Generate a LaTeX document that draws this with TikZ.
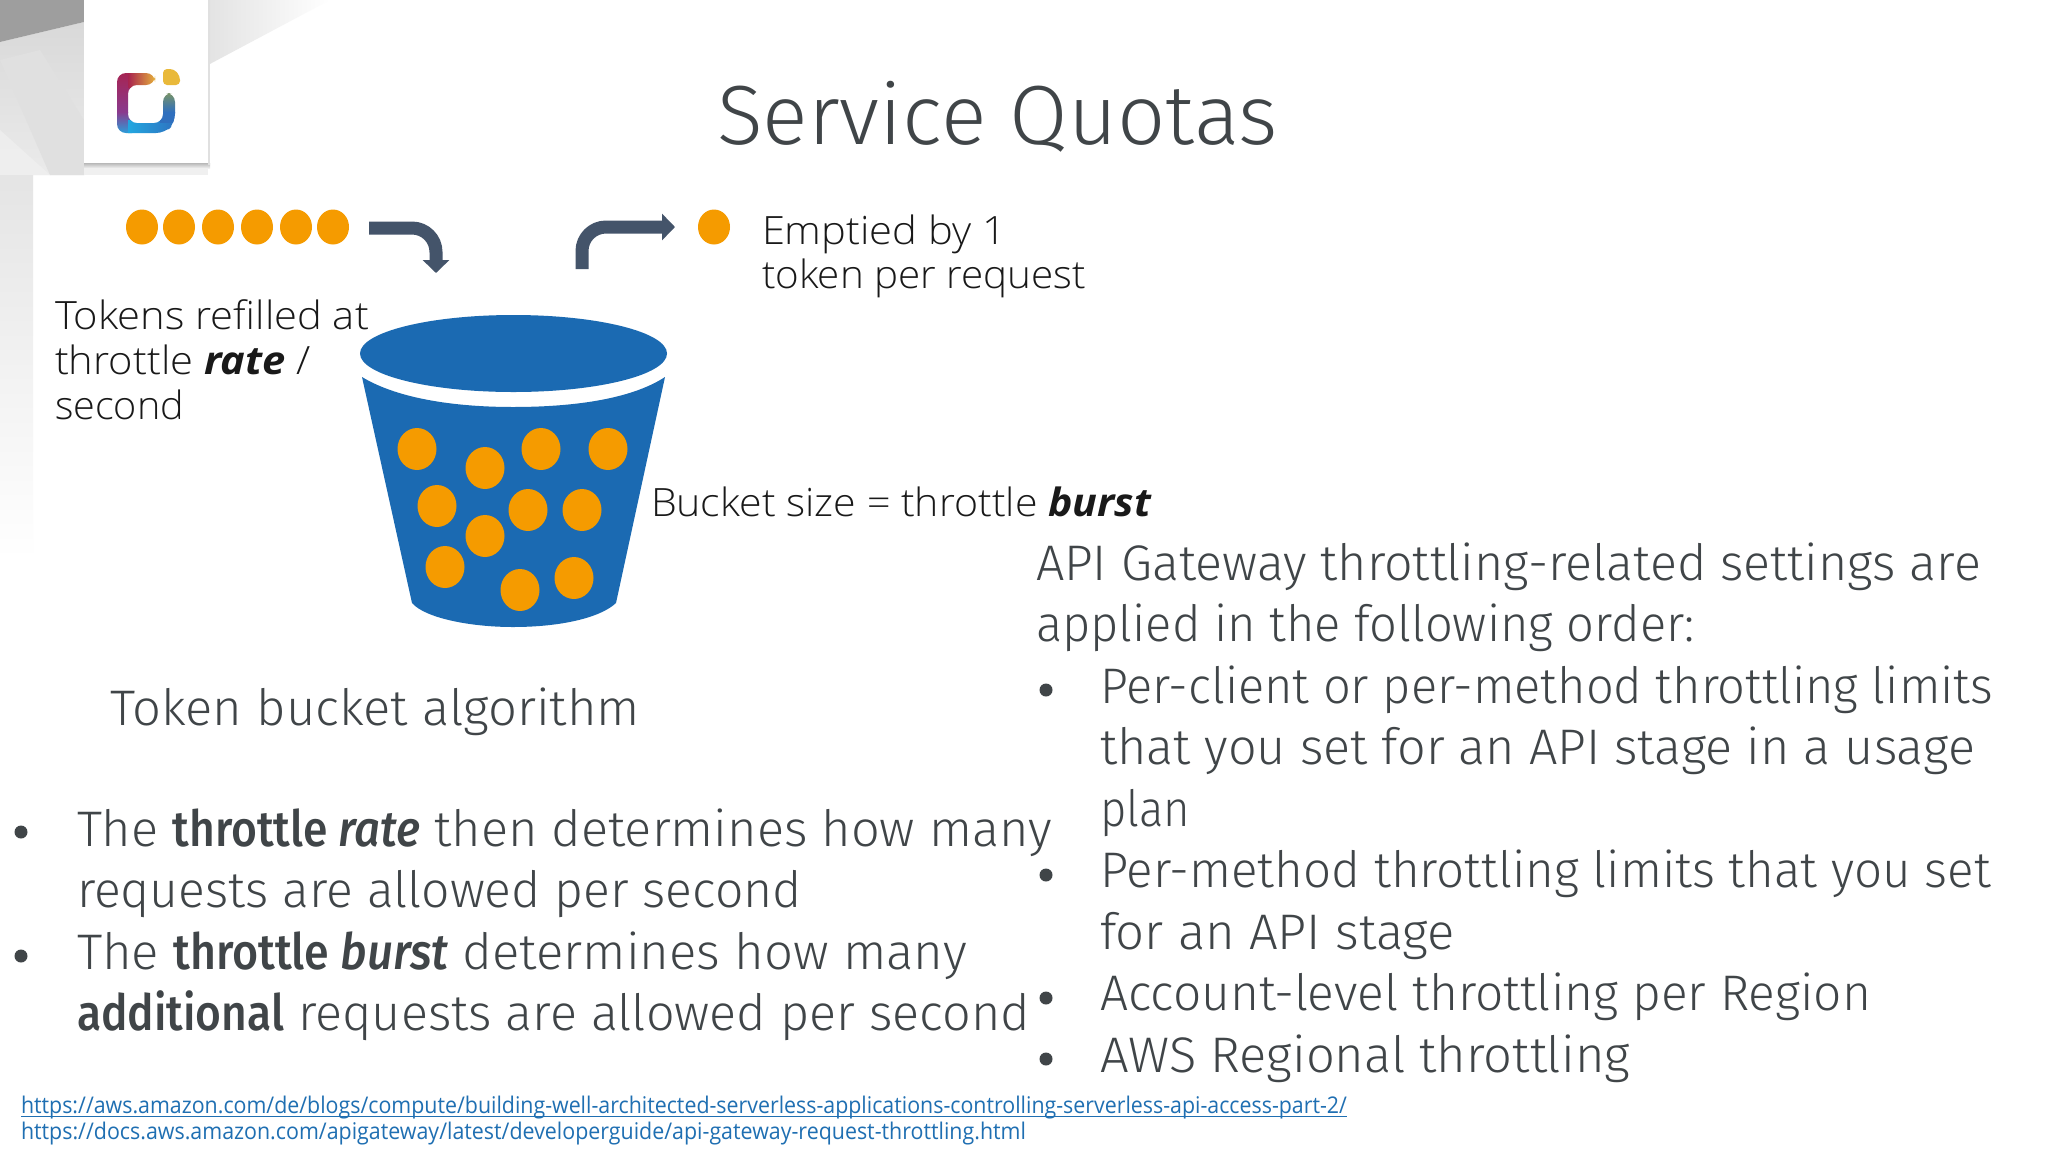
\documentclass[tikz,border=0pt]{standalone}
\usepackage{fontspec}
\usetikzlibrary{arrows.meta,shapes.geometric,calc}
\setmainfont{Open Sans}
\newfontfamily\bodyfont{Fira Sans}[UprightFont=* Light,BoldFont=* Medium,ItalicFont=* Light Italic,BoldItalicFont=* Medium Italic]
\newfontfamily\figfont{Open Sans}[UprightFont=* Light,BoldFont=* Bold,BoldItalicFont=* Bold Italic]
\newfontfamily\linkfont{Open Sans}
\definecolor{txt}{HTML}{404548}
\definecolor{tokenor}{HTML}{F59B00}
\definecolor{bucketb}{HTML}{1B6AB2}
\definecolor{arrowb}{HTML}{44546A}
\definecolor{linkb}{HTML}{1F6FB2}
\definecolor{lred}{HTML}{A8234F}
\definecolor{lpur}{HTML}{8A3A8E}
\definecolor{lyel}{HTML}{E9B93A}
\definecolor{lblu}{HTML}{2F6FBE}
\definecolor{lcya}{HTML}{22A7E0}
\definecolor{lgrn}{HTML}{84995A}
\newlength\fitwd
% fit text to a target width: \fitw{width in px}{text}
\newcommand\fitw[2]{\settowidth\fitwd{#2}\pgfmathsetmacro\fitr{#1/(\fitwd/1pt)}\scalebox{\fitr}[1]{#2}}
\newcommand\narbf[1]{\scalebox{.88}[1]{\textbf{#1}}}
\newcommand\narit[1]{\scalebox{.9}[1]{\textbf{\textit{#1}}}}
\tikzset{
  x=1pt,y=-1pt,
  lineb/.style={anchor=base west,inner sep=0pt,outer sep=0pt,text=txt,font=\bodyfont\fontsize{50}{52}\selectfont},
  figt/.style={anchor=base west,inner sep=0pt,outer sep=0pt,text=black!90,font=\figfont\fontsize{39}{41}\selectfont},
  linkt/.style={anchor=base west,inner sep=0pt,outer sep=0pt,text=linkb,font=\linkfont\fontsize{23}{25}\selectfont},
  bul/.style={circle,fill=txt,minimum size=13pt,inner sep=0pt,outer sep=0pt},
  tok/.style={ellipse,fill=tokenor,draw=none,inner sep=0pt,minimum width=#1},
  flow/.style={draw=arrowb,line width=13pt,rounded corners=24pt},
}
\begin{document}
\begin{tikzpicture}
\useasboundingbox (0,0) rectangle (2048,1152);
\fill[white] (0,0) rectangle (2048,1152);
% background facets
\shade[top color=black!14,bottom color=white] (0,42) rectangle (33,560);
\shade[top color=black!15,bottom color=black!8] (0,42) -- (84,22) -- (84,175) -- (0,175) -- cycle;
\fill[black!12] (0,60) -- (40,50) -- (84,120) -- (84,175) -- (50,175) -- cycle;
\fill[black!5,opacity=.6] (0,130) -- (50,175) -- (0,175) -- cycle;
\shade[left color=black!11,right color=white] (208,0) -- (330,0) -- (208,65) -- cycle;
\fill[black!6] (84,163) rectangle (208,175);
\fill[black!38] (0,0) -- (84,0) -- (84,22) -- (0,42) -- cycle;
% logo card
\shade[top color=black!28,bottom color=black!6] (84,163) rectangle (210,168);
\fill[black!12] (208,0) rectangle (210,165);
\fill[white] (84,0) rectangle (208,163);
\begin{scope}
  \clip[rounded corners=9pt] (117,73) -- (155,73) -- (155,85) -- (128,85) -- (128,123) -- (163,123) -- (163,93) -- (175,93) -- (175,123) -- (165,133) -- (117,133) -- cycle;
  \shade[top color=lred,bottom color=lpur] (115,70) rectangle (132,112);
  \shade[top color=lpur,bottom color=lcya] (115,112) rectangle (132,135);
  \shade[left color=lcya,right color=lblu] (128,120) rectangle (178,135);
  \shade[left color=lred,right color=lyel] (128,70) rectangle (157,87);
  \shade[top color=lgrn,bottom color=lblu] (160,90) rectangle (178,112);
  \fill[lblu] (160,112) rectangle (178,123);
\end{scope}
\fill[lyel,rounded corners=4pt] (163,69) -- (174,69) -- (180,76) -- (180,85) -- (163,85) -- cycle;
% title
\node[anchor=base west,inner sep=0pt,text=txt,font=\bodyfont\fontsize{84}{88}\selectfont] (title) at (717,144) {\fitw{561}{Service Quotas}};
% diagram tokens
\foreach \n/\x in {a/142,b/179,c/218,d/257,e/296,f/333}
  \node[tok=32pt,minimum height=35pt] (t\n) at (\x,227) {};
\node[tok=32pt,minimum height=35pt] (out) at (714,227) {};
% arrows
\coordinate (a1s) at (369,228); \coordinate (a1c) at (436,228); \coordinate (a1e) at (436,273);
\coordinate (a2s) at (582,269); \coordinate (a2c) at (582,227); \coordinate (a2e) at (675,227);
\draw[flow,-{Triangle[length=13pt,width=26pt]}] (a1s) -- (a1c) -- (a1e);
\draw[flow,-{Triangle[length=13pt,width=26pt]}] (a2s) -- (a2c) -- (a2e);
% bucket
\fill[bucketb] (362,377) .. controls (400,400) and (460,407) .. (513,407) .. controls (570,407) and (630,400) .. (665,377) -- (616,603) .. controls (600,618) and (560,627) .. (513,627) .. controls (470,627) and (425,618) .. (412,603) -- cycle;
\fill[bucketb] (513.5,353.5) ellipse [x radius=153.5,y radius=38.5];
\foreach \n/\x/\y in {a/417/449,b/485/468,c/541/449,d/608/449,e/437/506,f/528/510,g/582/510,h/485/536,i/445/567,j/520/590,k/574/578}
  \node[tok=39pt,minimum height=42pt] (c\n) at (\x,\y) {};
% diagram labels
\node[figt] (l1) at (55,329) {\fitw{314}{Tokens refilled at}};
\node[figt] (l2) at (55,374) {\fitw{256}{throttle \textbf{\textit{rate}} /}};
\node[figt] (l3) at (55,419) {\fitw{129}{second}};
\node[figt] (l4) at (762,244) {\fitw{244}{Emptied by 1}};
\node[figt] (l5) at (762,288) {\fitw{324}{token per request}};
\node[figt] (l6) at (651,516) {\fitw{501}{Bucket size = throttle \textbf{\textit{burst}}}};
% left text
\node[lineb] (cap) at (110,725) {\fitw{530}{Token bucket algorithm}};
\node[bul] (b1) at (21,832) {};
\node[lineb] (p1) at (77,846) {\fitw{975}{The \narbf{throttle}\hspace{-3pt} \narit{rate} then determines how many}};
\node[lineb] (p2) at (77,907.5) {\fitw{725}{requests are allowed per second}};
\node[bul] (b2) at (21,956) {};
\node[lineb] (p3) at (77,969) {\fitw{890}{The \narbf{throttle}\hspace{-3pt} \narit{burst} determines how many}};
\node[lineb] (p4) at (77,1030.5) {\fitw{953}{\narbf{additional} requests are allowed per second}};
% right text
\node[lineb] (r1) at (1036,580) {\fitw{945}{API Gateway throttling-related settings are}};
\node[lineb] (r2) at (1036,641.5) {\fitw{659}{applied in the following order:}};
\node[bul] (rb1) at (1046,690) {};
\node[lineb] (r3) at (1100,703) {\fitw{893}{Per-client or per-method throttling limits}};
\node[lineb] (r4) at (1100,764.5) {\fitw{875}{that you set for an API stage in a usage}};
\node[lineb] (r5) at (1100,826) {\fitw{90}{plan}};
\node[bul] (rb2) at (1046,875) {};
\node[lineb] (r6) at (1100,887.5) {\fitw{891}{Per-method throttling limits that you set}};
\node[lineb] (r7) at (1100,949) {\fitw{355}{for an API stage}};
\node[bul] (rb3) at (1046,998) {};
\node[lineb] (r8) at (1100,1010.5) {\fitw{771}{Account-level throttling per Region}};
\node[bul] (rb4) at (1046,1059) {};
\node[lineb] (r9) at (1100,1072) {\fitw{530}{AWS Regional throttling}};
% links
\node[linkt] (u1) at (21,1113) {\fitw{1326}{https://aws.amazon.com/de/blogs/compute/building-well-architected-serverless-applications-controlling-serverless-api-access-part-2/}};
\draw[linkb,line width=1.6pt] (u1.base west) ++(0,3.5) -- ++(1326,0);
\node[linkt] (u2) at (21,1139) {\fitw{1005}{https://docs.aws.amazon.com/apigateway/latest/developerguide/api-gateway-request-throttling.html}};
\end{tikzpicture}
\end{document}
